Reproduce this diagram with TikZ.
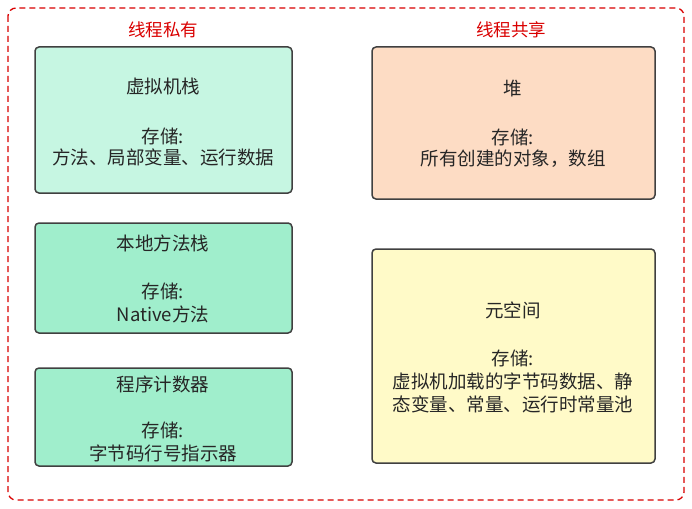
\documentclass[tikz,border=0pt]{standalone}
\usepackage{fontspec}
\setmainfont{Noto Sans CJK SC}
\begin{document}
\begin{tikzpicture}[x=1pt,y=-1pt,
  box/.style={draw=black!75,line width=1.5pt,rounded corners=4pt},
  txt/.style={font=\fontsize{18.5}{20}\selectfont,text=black!85},
  lab/.style={font=\fontsize{17.5}{20}\selectfont,text=red!85!black}]
\useasboundingbox (0,0) rectangle (692,508);
\draw[red!85!black,line width=1.3pt,rounded corners=8pt,dash pattern=on 6pt off 4pt] (8,8) rectangle (684,500);
\node[lab] (l1) at (163,30) {线程私有};
\node[lab] (l2) at (511,30) {线程共享};
\draw[box,fill={rgb,255:red,198;green,246;blue,226}] (35,47) rectangle (292,193);
\node[txt] (a1) at (163,86) {虚拟机栈};
\node[txt] (a2) at (163,136) {存储:};
\node[txt] (a3) at (163,157) {方法、局部变量、运行数据};
\draw[box,fill={rgb,255:red,160;green,238;blue,204}] (35,223) rectangle (292,333);
\node[txt] (b1) at (163,243) {本地方法栈};
\node[txt] (b2) at (163,291) {存储:};
\node[txt] (b3) at (163,314) {Native方法};
\draw[box,fill={rgb,255:red,160;green,238;blue,204}] (35,368) rectangle (292,466);
\node[txt] (c1) at (163,384) {程序计数器};
\node[txt] (c2) at (163,430) {存储:};
\node[txt] (c3) at (163,453) {字节码行号指示器};
\draw[box,fill={rgb,255:red,253;green,220;blue,196}] (372,47) rectangle (655,199);
\node[txt] (d1) at (513,89) {堆};
\node[txt] (d2) at (513,137) {存储:};
\node[txt] (d3) at (513,159) {所有创建的对象，数组};
\draw[box,fill={rgb,255:red,255;green,250;blue,200}] (372,249) rectangle (655,463);
\node[txt] (e1) at (513,310) {元空间};
\node[txt] (e2) at (513,358) {存储:};
\node[txt] (e3) at (513,381) {虚拟机加载的字节码数据、静};
\node[txt] (e4) at (513,404) {态变量、常量、运行时常量池};
\end{tikzpicture}
\end{document}
